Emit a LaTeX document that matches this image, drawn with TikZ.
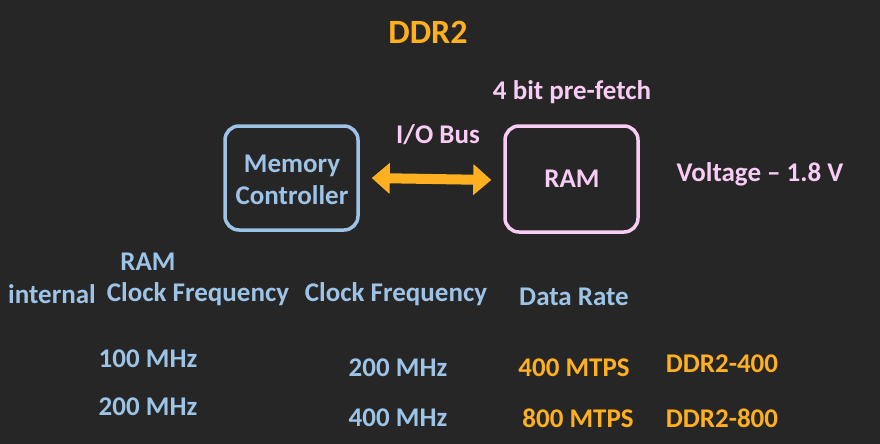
\documentclass[tikz,border=0pt]{standalone}
\usepackage{fontspec}
\setmainfont{Carlito}
\usetikzlibrary{arrows.meta}
\definecolor{bg}{HTML}{262626}
\definecolor{org}{HTML}{FFB020}
\definecolor{pnk}{HTML}{F8CCF4}
\definecolor{blu}{HTML}{9DC3E6}
\begin{document}
\begin{tikzpicture}[x=1pt,y=-1pt,
  t/.style={font=\fontsize{27}{30}\selectfont\bfseries,inner sep=0pt},
  b/.style={t,text=blu}, p/.style={t,text=pnk}, o/.style={t,text=org},
  box/.style={draw,line width=3.5pt,rounded corners=14pt,align=center}]
\fill[bg] (0,0) rectangle (880,444);
\useasboundingbox (0,0) rectangle (880,444);
\node[o,font=\fontsize{34}{38}\selectfont\bfseries] (title) at (428,32) {DDR2};
\node[p] (pf) at (572,92) {4 bit pre-fetch};
\node[box,draw=blu,minimum width=133pt,minimum height=104pt] (mc) at (291.5,178) {};
\node[b,align=center,font=\fontsize{27}{32}\selectfont\bfseries] (mct) at (292,180) {Memory\\Controller};
\node[box,draw=pnk,minimum width=133pt,minimum height=106pt] (ram) at (571.5,179) {};
\node[p] (ramt) at (572,179) {RAM};
\node[p] (io) at (438,135) {I/O Bus};
\draw[org,line width=10pt,{Triangle[width=30pt,length=18pt]}-{Triangle[width=30pt,length=18pt]}] ([xshift=12pt]mc.east) -- ([xshift=-12pt,yshift=-1pt]ram.west);
\node[p] (volt) at (760,174) {Voltage – 1.8 V};
\node[b] (r1) at (148,262) {RAM};
\node[b] (r2) at (198,294) {Clock Frequency};
\node[b] (int) at (52,294) {internal};
\node[b] (cf) at (396,294) {Clock Frequency};
\node[b] (dr) at (574,297) {Data Rate};
\node[b] (a1) at (148,359) {100 MHz};
\node[b] (a2) at (148,407) {200 MHz};
\node[b] (b1) at (398,368) {200 MHz};
\node[b] (b2) at (398,418) {400 MHz};
\node[o] (c1) at (574,368) {400 MTPS};
\node[o] (c2) at (578,418) {800 MTPS};
\node[o] (d1) at (722,364) {DDR2-400};
\node[o] (d2) at (722,418) {DDR2-800};
\end{tikzpicture}
\end{document}
